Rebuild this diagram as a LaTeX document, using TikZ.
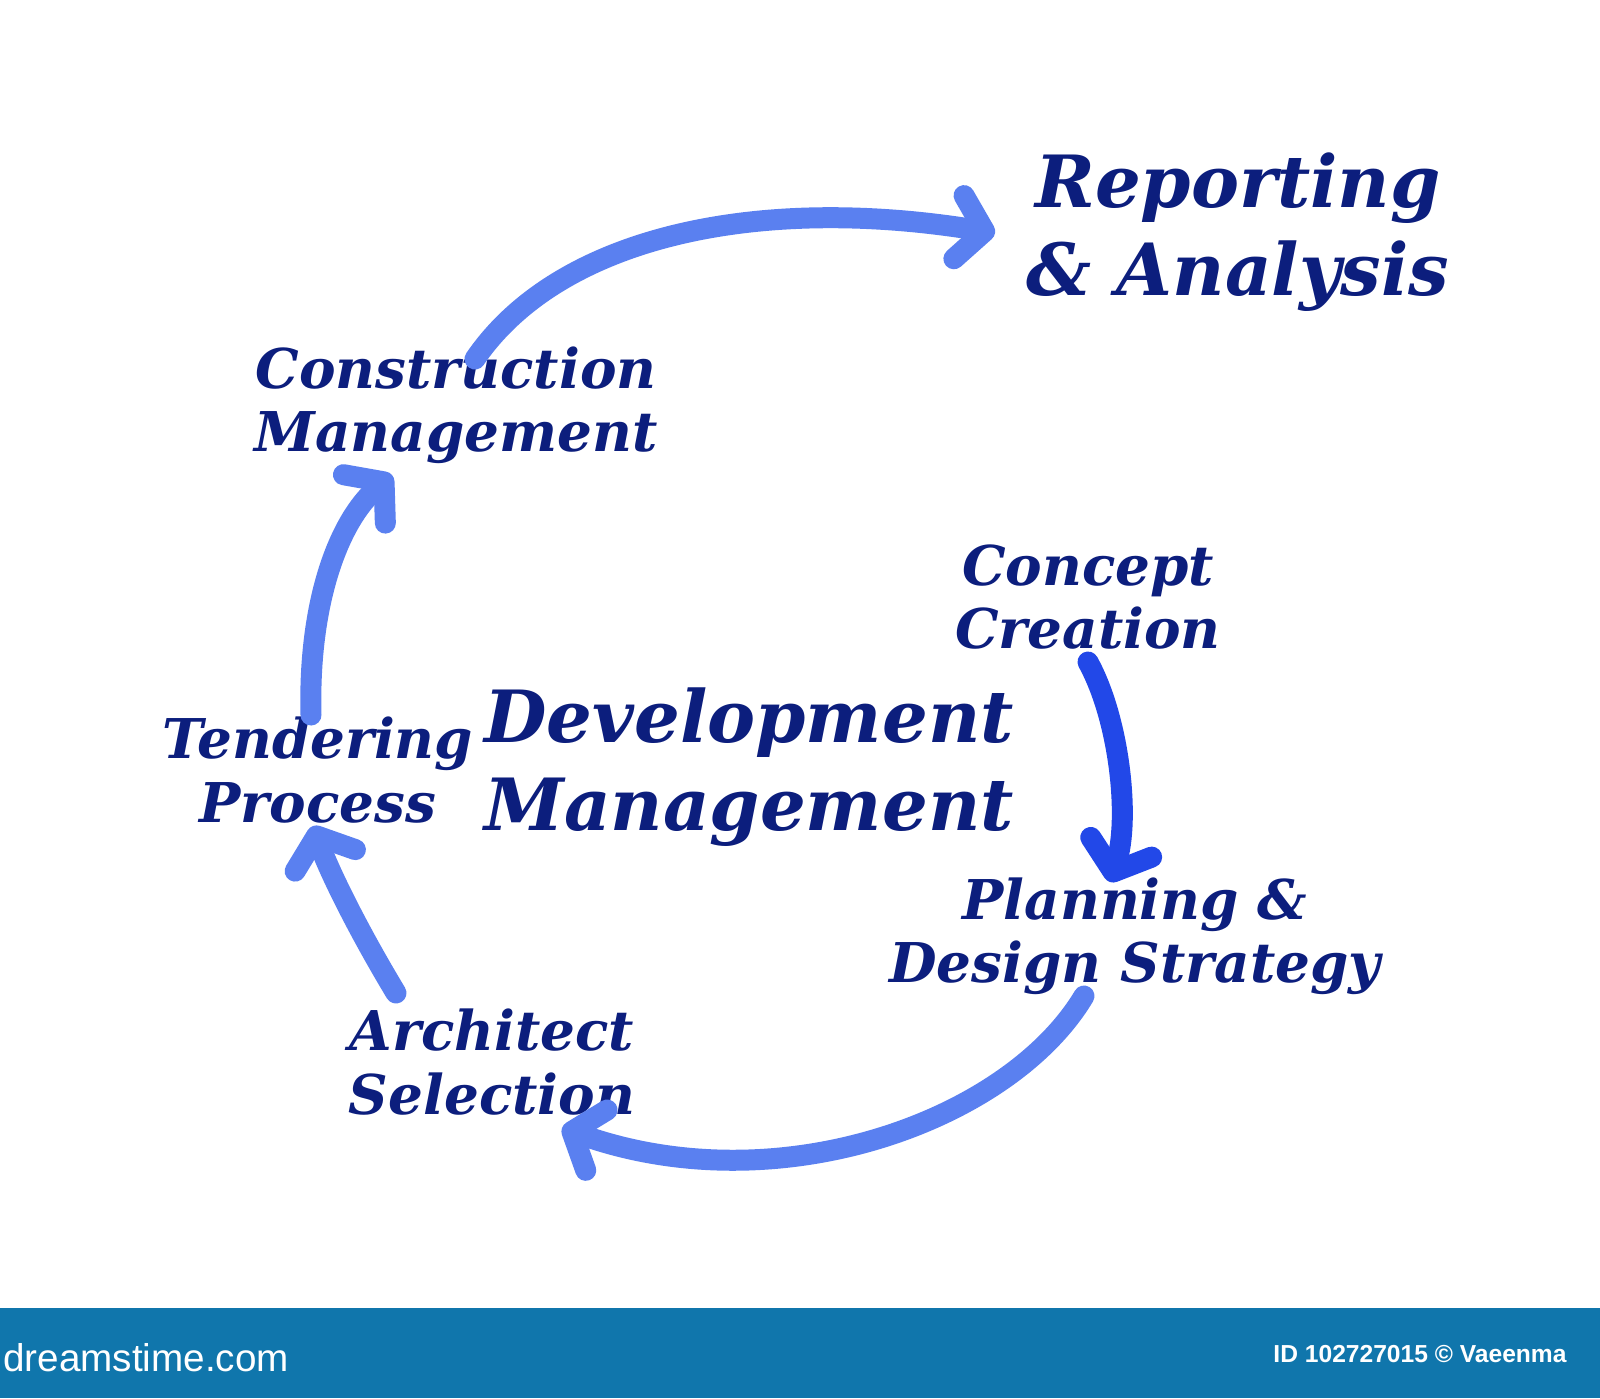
\documentclass[tikz,border=0pt]{standalone}
\usepackage{fontspec}
\setmainfont{DejaVu Serif}
\newfontfamily\barfont{Liberation Sans}
\usepackage{xcolor}
\usetikzlibrary{arrows.meta,calc}
\definecolor{inkblue}{RGB}{12,30,125}
\definecolor{penlight}{RGB}{90,128,240}
\definecolor{pendark}{RGB}{34,72,232}
\definecolor{barblue}{RGB}{16,118,172}

\begin{document}
\begin{tikzpicture}[line cap=round,line join=round,x=0.1mm,y=-0.1mm,
  stage text/.style={text=inkblue,align=center,inner sep=0pt,font=\bfseries\itshape\fontsize{15.6}{18}\selectfont},
  big text/.style={stage text,font=\bfseries\itshape\fontsize{20.5}{25}\selectfont},
  pen/.style={draw=penlight,line width=2.1mm,-{Straight Barb[length=2.6mm,width=6.4mm,line cap=round,line join=round]}},
  dark pen/.style={pen,draw=pendark}]
\useasboundingbox (0,0) rectangle (1600,1398);
\fill[white] (0,0) rectangle (1600,1398);
% stages of the cycle
\node[big text] (report) at (1238,232) {Reporting\\\& Analysis};
\node[stage text] (construct) at (456,405) {Construction\\Management};
\node[stage text] (concept) at (1088,597) {Concept\\Creation};
\node[big text] (develop) at (749,767) {Development\\Management};
\node[stage text] (tender) at (318,770) {Tendering\\Process};
\node[stage text] (plan) at (1135,936) {Planning \&\\Design Strategy};
\node[stage text] (archi) at (492,1062) {Architect\\Selection};
% arrows
\draw[pen] ($(construct)+(19,-46)$) .. controls (560,235) and (760,195) .. ($(report)+(-243,1)$);
\draw[pen] ($(tender)+(-7,-55)$) .. controls (308,600) and (340,520) .. ($(construct)+(-64,70)$);
\draw[pen] ($(archi)+(-96,-69)$) .. controls (355,925) and (328,868) .. ($(tender)+(-5,56)$);
\draw[dark pen] ($(concept)+(0,65)$) .. controls (1120,720) and (1130,820) .. ($(plan)+(-25,-54)$);
\draw[pen] ($(plan)+(-51,60)$) .. controls (1010,1120) and (780,1205) .. ($(archi)+(70,66)$);
% footer bar
\fill[barblue] (0,1308) rectangle (1600,1398);
\node[text=white,inner sep=0pt,font=\barfont\fontsize{11}{13}\selectfont] (site) at (146,1358) {dreamstime.com};
\node[text=white,inner sep=0pt,font=\barfont\bfseries\fontsize{7}{9}\selectfont] (imgid) at (1420,1354) {ID 102727015 © Vaeenma};
\end{tikzpicture}
\end{document}
